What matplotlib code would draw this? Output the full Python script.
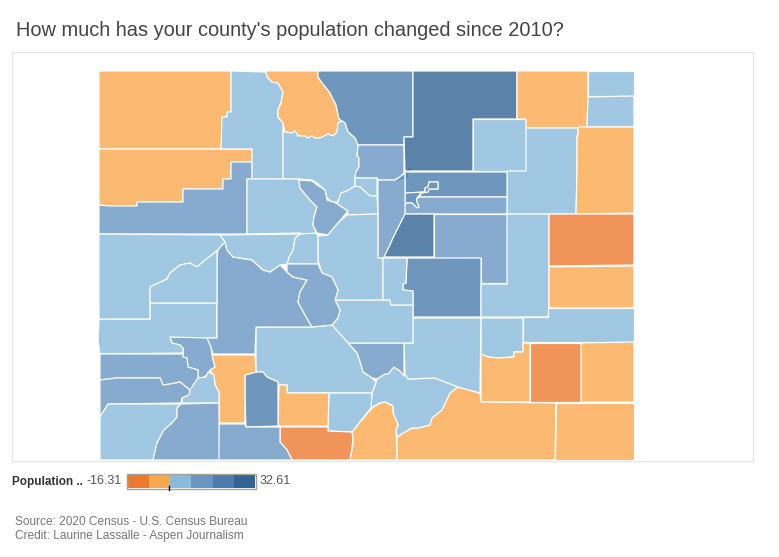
import matplotlib
matplotlib.use("Agg")
import matplotlib.pyplot as plt
from matplotlib.colors import ListedColormap, BoundaryNorm, to_rgba
from matplotlib.patches import Polygon, Rectangle
import numpy as np

plt.rcParams['font.family'] = ['Liberation Sans', 'DejaVu Sans']

TITLE = "How much has your county's population changed since 2010?"
LEGEND_NAME = "Population .."
SOURCE = "Source: 2020 Census - U.S. Census Bureau\nCredit: Laurine Lassalle - Aspen Journalism"
VMIN, VMAX = -16.31, 32.61
CLASS_COLORS = ["#EE7A30", "#FAA84D", "#8ABBDD", "#6896C3", "#4B7CAB", "#326392"]

# estimated % change per county
VALUES = {
    "Moffat": -3, "Rio Blanco": -2, "Garfield": 10, "Routt": 7, "Jackson": -5, "Larimer": 20, "Grand": 5,
    "Boulder": 11, "Broomfield": 30, "Weld": 29, "Morgan": 4, "Logan": -5, "Sedgwick": 1, "Phillips": 2,
    "Washington": 3, "Yuma": -2, "Adams": 21, "Denver": 20, "Arapahoe": 15, "Jefferson": 10, "Douglas": 25,
    "Elbert": 14, "El Paso": 20, "Lincoln": 2, "Kit Carson": -10, "Cheyenne": -6, "Kiowa": 3, "Crowley": 4,
    "Otero": -4, "Bent": -11, "Prowers": -7, "Baca": -8, "Las Animas": -6, "Huerfano": 3, "Costilla": -3,
    "Pueblo": 5, "Fremont": 3, "Custer": 12, "Saguache": 6, "Alamosa": 4, "Rio Grande": -5, "Mineral": 22,
    "Conejos": -10, "Archuleta": 12, "Hinsdale": -4, "Ouray": 9, "Montrose": 2, "San Miguel": 10, "Dolores": 11,
    "San Juan": 2, "Montezuma": 3, "La Plata": 8.5, "Gunnison": 11, "Mesa": 5, "Delta": 1, "Eagle": 5,
    "Summit": 11, "Gilpin": 6, "Clear Creek": 1, "Park": 4, "Teller": 5, "Lake": 2, "Pitkin": 1, "Chaffee": 13,
}

OUTLINES = {
    "Moffat": [(99,71),(231,71),(231,112),(227,112),(227,117),(222,117),(222,138),(221,149),(99,149)],
    "Rio Blanco": [(99,149),(252,149),(252,162),(231,162),(231,179),(223,179),(223,189),(183,189),(183,202),(137,202),(137,206),(110,206),(99,205)],
    "Garfield": [(99,205),(110,206),(137,206),(137,202),(183,202),(183,189),(223,189),(223,179),(231,179),(231,162),(252,162),(252,179),(247,179),(247,234),(99,234)],
    "Routt": [(231,71),(266,72),(267,77),(272,82),(278,83),(283,92),(281,103),(278,110),(278,117),(283,123),(283,179),(252,179),(252,149),(221,149),(222,117),(227,117),(227,112),(231,112)],
    "Jackson": [(266,71),(318,71),(318,77),(323,84),(330,93),(336,105),(339,119),(342,121),(338,123),(337,132),(333,136),(328,134),(320,138),(315,138),(312,136),(308,138),(305,136),(298,136),(295,131),(292,133),(285,132),(283,123),(278,117),(278,110),(281,103),(283,92),(278,83),(272,82),(267,77)],
    "Larimer": [(318,71),(413,71),(413,137),(404,137),(404,145),(358,145),(355,138),(348,132),(345,123),(342,121),(339,119),(336,105),(330,93),(323,84),(318,77)],
    "Grand": [(283,130),(285,132),(292,133),(295,131),(298,136),(305,136),(308,138),(312,136),(315,138),(320,138),(328,134),(333,136),(337,132),(338,123),(342,121),(345,123),(348,132),(355,138),(358,145),(358,147),(357,155),(359,158),(359,167),(356,172),(355,178),(355,186),(347,191),(341,193),(338,202),(332,202),(327,198),(325,190),(317,183),(312,180),(299,179),(283,179)],
    "Boulder": [(358,145),(404,145),(404,173),(400,177),(395,180),(378,180),(377,178),(355,178),(356,172),(359,167),(359,158),(357,155),(358,147)],
    "Broomfield": [(411,167),(412,172),(408,172),(408,178),(402,180),(397,182),(396,181),(400,177),(405,173),(406,170)],
    "Weld": [(413,71),(517,71),(517,119),(473,119),(473,171),(405,171),(404,137),(413,137)],
    "Morgan": [(473,119),(526,119),(526,171),(473,171)],
    "Logan": [(517,71),(588,71),(588,97),(587,128),(526,128),(526,119),(517,119)],
    "Sedgwick": [(588,71),(634,71),(634,96),(588,96)],
    "Phillips": [(588,97),(634,96),(634,127),(587,127)],
    "Washington": [(526,128),(578,128),(578,136),(577,136),(577,171),(576,214),(507,214),(507,171),(526,171)],
    "Yuma": [(578,127),(634,127),(634,213),(576,214),(577,171),(577,136),(578,136)],
    "Adams": [(405,172),(507,172),(507,197),(420,197),(421,193),(428,192),(429,189),(438,189),(438,182),(429,182),(428,187),(425,188),(425,192),(405,193)],
    "Denver": [(405,193),(425,192),(425,188),(428,187),(429,182),(438,182),(438,189),(429,189),(428,192),(421,193),(417,198),(417,202),(419,207),(417,208),(412,203),(407,203),(405,205)],
    "Arapahoe": [(420,197),(507,197),(507,214),(405,214),(405,209),(401,209),(407,203),(412,203),(417,208),(419,207),(417,202),(417,198)],
    "Jefferson": [(378,180),(395,180),(400,177),(405,173),(405,214),(402,220),(397,230),(393,238),(390,245),(384,258),(378,258)],
    "Douglas": [(405,214),(434,214),(434,257),(384,257),(390,245),(393,238),(397,230),(402,220)],
    "Elbert": [(434,214),(507,214),(507,283),(481,283),(481,258),(434,258)],
    "El Paso": [(407,258),(481,258),(481,317),(413,317),(413,291),(403,290),(403,284),(406,283)],
    "Lincoln": [(507,214),(549,214),(549,308),(548,317),(481,317),(481,284),(507,284)],
    "Kit Carson": [(549,214),(634,214),(634,265),(549,266)],
    "Cheyenne": [(549,267),(634,266),(634,308),(549,308)],
    "Kiowa": [(548,308),(634,308),(634,342),(523,342),(523,317),(548,317)],
    "Crowley": [(481,318),(523,318),(523,352),(514,352),(514,357),(498,358),(488,357),(481,354)],
    "Otero": [(481,354),(488,357),(498,358),(514,357),(514,352),(523,352),(523,343),(530,343),(530,402),(481,402)],
    "Bent": [(530,343),(581,343),(581,402),(530,402)],
    "Prowers": [(581,343),(634,342),(634,402),(581,402)],
    "Baca": [(556,403),(634,403),(634,460),(555,460)],
    "Las Animas": [(480,393),(481,402),(556,403),(555,460),(397,460),(397,437),(403,433),(412,428),(418,428),(430,425),(432,418),(442,410),(450,393),(458,387)],
    "Huerfano": [(397,437),(403,433),(412,428),(418,428),(430,425),(432,418),(442,410),(450,393),(458,387),(435,378),(408,379),(405,374),(400,371),(394,367),(388,374),(385,374),(377,379),(376,383),(372,393),(371,408),(380,403),(385,402),(393,406),(393,413),(397,422),(398,425),(396,430)],
    "Costilla": [(352,432),(360,422),(372,408),(380,403),(385,402),(393,406),(393,413),(397,422),(398,425),(396,430),(397,460),(350,460),(353,445),(353,438)],
    "Pueblo": [(413,318),(481,318),(480,393),(458,387),(435,378),(408,379),(405,374),(404,343),(413,343)],
    "Custer": [(348,343),(404,343),(404,376),(400,371),(394,367),(388,374),(385,374),(377,379),(372,378),(363,372),(360,362),(357,353)],
    "Fremont": [(335,300),(390,300),(391,305),(413,305),(413,343),(348,343),(332,325),(338,318),(340,310)],
    "Saguache": [(256,327),(312,327),(332,325),(348,343),(357,353),(360,362),(363,372),(372,378),(376,382),(372,393),(287,393),(287,385),(279,385),(278,382),(267,377),(263,372),(256,372)],
    "Alamosa": [(329,393),(372,393),(371,408),(352,432),(328,431),(328,427)],
    "Rio Grande": [(279,385),(287,385),(287,393),(329,393),(328,426),(278,426)],
    "Mineral": [(245,375),(256,372),(263,372),(267,377),(278,382),(278,426),(246,427),(245,400)],
    "Conejos": [(280,427),(328,427),(328,431),(352,432),(353,440),(350,460),(292,460),(287,450),(280,442)],
    "Archuleta": [(219,424),(245,424),(246,427),(280,427),(280,442),(287,450),(292,460),(218,460)],
    "Hinsdale": [(212,355),(255,355),(256,372),(245,375),(245,400),(245,423),(219,423),(219,392),(215,385),(214,377),(210,370),(215,367),(213,360)],
    "Ouray": [(170,337),(207,337),(211,347),(212,355),(213,360),(215,367),(210,370),(207,375),(202,378),(198,377),(198,370),(188,367),(187,358),(183,357),(183,348),(180,345),(172,343)],
    "Montrose": [(99,319),(150,319),(150,303),(217,303),(217,338),(207,338),(170,337),(172,343),(180,345),(183,348),(183,353),(100,354),(98,340)],
    "San Miguel": [(100,354),(183,354),(183,357),(187,358),(188,367),(198,370),(198,378),(190,390),(180,382),(170,384),(163,385),(160,378),(117,378),(100,380)],
    "Dolores": [(100,380),(117,378),(160,378),(163,385),(170,384),(180,382),(190,390),(189,395),(182,398),(181,403),(108,404),(100,417)],
    "San Juan": [(198,378),(206,377),(208,372),(214,375),(215,385),(219,392),(219,403),(182,403),(182,398),(189,395),(190,390)],
    "Montezuma": [(108,404),(181,404),(177,408),(177,417),(172,423),(164,430),(157,443),(153,460),(100,460),(100,417)],
    "La Plata": [(181,404),(219,403),(219,460),(153,460),(157,443),(164,430),(172,423),(177,417),(177,408)],
    "Gunnison": [(218,248),(222,245),(225,242),(227,250),(233,257),(252,260),(263,270),(270,272),(280,265),(287,272),(293,277),(307,280),(300,292),(298,302),(305,315),(312,327),(256,327),(255,354),(213,354),(211,347),(207,338),(217,338),(217,260)],
    "Mesa": [(99,234),(220,235),(225,242),(222,245),(218,250),(213,254),(205,260),(197,267),(190,263),(180,265),(170,273),(167,279),(150,287),(150,319),(99,319)],
    "Delta": [(150,287),(167,279),(170,273),(180,265),(190,263),(197,267),(205,260),(213,254),(217,250),(217,303),(150,303)],
    "Eagle": [(247,179),(299,179),(300,188),(310,200),(317,207),(314,217),(313,225),(316,233),(307,235),(300,233),(247,234)],
    "Summit": [(299,180),(312,181),(317,185),(325,190),(327,200),(336,203),(348,211),(338,223),(332,230),(328,235),(317,233),(313,225),(314,217),(317,207),(310,200),(300,188)],
    "Gilpin": [(355,178),(377,178),(377,196),(370,196),(360,187),(355,186)],
    "Clear Creek": [(338,202),(341,193),(347,191),(355,186),(360,187),(370,196),(377,196),(378,214),(347,215),(348,211),(336,203)],
    "Park": [(318,236),(328,235),(332,230),(338,223),(347,215),(378,214),(378,258),(383,258),(383,300),(335,300),(338,290),(332,277),(322,273),(318,260)],
    "Teller": [(383,258),(407,258),(406,283),(403,284),(403,290),(413,291),(413,305),(391,305),(390,300),(383,300)],
    "Lake": [(287,264),(289,257),(293,250),(295,238),(300,234),(316,233),(318,236),(318,264)],
    "Pitkin": [(220,235),(300,234),(295,238),(293,250),(289,257),(287,264),(280,265),(270,272),(263,270),(252,260),(233,257),(227,250),(225,242)],
    "Chaffee": [(287,264),(318,264),(322,273),(332,277),(338,290),(335,300),(340,310),(338,318),(332,325),(312,327),(305,315),(298,302),(300,292),(307,280),(293,277),(287,272)],
}

edges = np.linspace(VMIN, VMAX, len(CLASS_COLORS) + 1)
cmap = ListedColormap(CLASS_COLORS)
norm = BoundaryNorm(edges, cmap.N)

fig = plt.figure(figsize=(7.79, 5.57), dpi=100, facecolor="white")
ax = fig.add_axes([0, 0, 1, 1])
ax.set_xlim(0, 779)
ax.set_ylim(557, 0)
ax.axis("off")

# frame of the map card
ax.add_patch(Rectangle((12.5, 51.5), 741, 409, fc="white", ec="#e6e6e6", lw=1, zorder=0))

for name, outline in OUTLINES.items():
    face = to_rgba(cmap(norm(VALUES[name])), 0.8)
    ax.add_patch(Polygon(outline, closed=True, fc=face, ec="white", lw=0.85, joinstyle="round", zorder=2))

ax.text(16, 31, TITLE, fontsize=14.4, color="#444444", va="center", ha="left")

# legend
ax.text(12, 482, LEGEND_NAME, fontsize=8.5, fontweight="bold", color="#333333", va="center", ha="left")
ax.text(122, 481, f"{VMIN:.2f}", fontsize=9, color="#555555", va="center", ha="right")
ax.text(260, 481, f"{VMAX:.2f}", fontsize=9, color="#555555", va="center", ha="left")
ax.pcolormesh(np.linspace(127.5, 255.5, 7), [473.5, 488], [np.arange(6)], cmap=cmap, vmin=-0.5, vmax=5.5,
              edgecolors="none", zorder=2)
ax.add_patch(Rectangle((127, 473.5), 129, 15, fc="none", ec="#a8a092", lw=1, zorder=3))
ax.plot([169.5, 169.5], [486, 490], color="black", lw=1, zorder=4)

ax.text(15, 529, SOURCE, fontsize=8.6, color="#777777", va="center", ha="left", linespacing=1.15)

fig.savefig("out.png", dpi=100)
